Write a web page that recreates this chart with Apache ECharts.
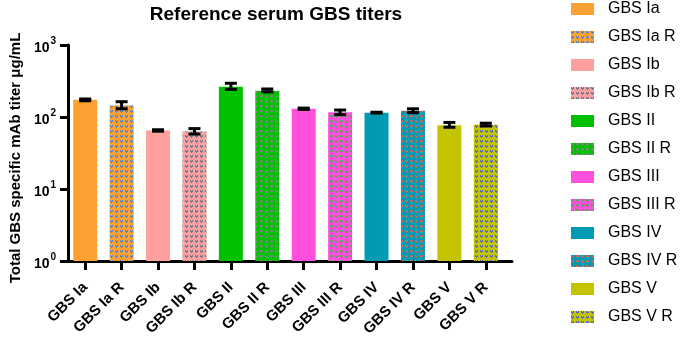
<!DOCTYPE html>
<html><head><meta charset="utf-8">
<script src="https://cdn.jsdelivr.net/npm/echarts@6/dist/echarts.min.js"></script>
<style>html,body{margin:0;padding:0;background:#fff}#c{width:685px;height:339px}</style>
</head><body><div id="c"></div>
<script>
const categories = ['GBS Ia','GBS Ia R','GBS Ib','GBS Ib R','GBS II','GBS II R','GBS III','GBS III R','GBS IV','GBS IV R','GBS V','GBS V R'];
const means = [173, 145, 65, 63, 264, 232, 130, 116, 115, 122, 77, 78];
const errLow = [168, 130, 63.5, 58, 242, 223, 127, 108, 113.5, 115, 72, 75];
const errHigh = [178, 163, 66.5, 69, 294, 245, 133, 125, 116.5, 130, 84, 82];
const yTicks = [1, 10, 100, 1000];

const baseColors = ['#FFA033','#FFA033','#FF9F9F','#FF9F9F','#00C000','#00C000','#FF50DD','#FF50DD','#009AB5','#009AB5','#C3C300','#C3C300'];
const dotColors = [null,'#5B86C0',null,'#6B7B8B',null,'#7A8A7A',null,'#5FA05F',null,'#C0705A',null,'#5A6AB4'];

function makePattern(base, dot){
  const c = document.createElement('canvas');
  c.width = 5; c.height = 5;
  const g = c.getContext('2d');
  g.fillStyle = base; g.fillRect(0,0,5,5);
  g.fillStyle = dot;
  g.fillRect(0,0,1,1); g.fillRect(2,0,1,1);
  g.fillRect(0,1,3,1);
  g.fillRect(1,2,1,1);
  return {image: c, repeat: 'repeat'};
}

const FONT = 'Liberation Sans';
const series = categories.map((name, i) => {
  const d = categories.map((_, j) => j === i ? means[j] : '-');
  const color = dotColors[i] ? makePattern(baseColors[i], dotColors[i]) : baseColors[i];
  return {
    name, type: 'bar', xAxisIndex: 0, yAxisIndex: 0,
    data: d, barWidth: 24, barGap: '-100%',
    itemStyle: {color}, emphasis: {disabled: true}, silent: true
  };
});
series.push({
  type: 'custom', xAxisIndex: 0, yAxisIndex: 0, z: 10, silent: true,
  data: categories.map((_, i) => [i, errLow[i], errHigh[i]]),
  renderItem: function(params, api){
    const x = api.value(0);
    const lo = api.coord([x, api.value(1)]);
    const hi = api.coord([x, api.value(2)]);
    const hw = 6;
    const st = {stroke: '#000', lineWidth: 3};
    return {type: 'group', children: [
      {type: 'line', shape: {x1: lo[0], y1: lo[1], x2: hi[0], y2: hi[1]}, style: st},
      {type: 'line', shape: {x1: lo[0]-hw, y1: lo[1], x2: lo[0]+hw, y2: lo[1]}, style: st},
      {type: 'line', shape: {x1: hi[0]-hw, y1: hi[1], x2: hi[0]+hw, y2: hi[1]}, style: st}
    ]};
  }
});

const chart = echarts.init(document.getElementById('c'), null, {renderer: 'canvas'});
chart.setOption({
  animation: false,
  backgroundColor: '#fff',
  textStyle: {fontFamily: FONT},
  title: {
    text: 'Reference serum GBS titers', left: 271, top: 0, textAlign: 'center',
    textStyle: {fontFamily: FONT, fontWeight: 'bold', fontSize: 19, color: '#000'}
  },
  legend: {
    orient: 'vertical', left: 571, top: 1, padding: 0, itemGap: 12,
    itemWidth: 23, itemHeight: 12, icon: 'rect',
    data: categories,
    textStyle: {fontFamily: FONT, fontSize: 16, color: '#000', padding: [0,0,0,9]}
  },
  grid: [
    {left: 67, right: 181, top: 45, bottom: 78},
    {left: 61, right: 173, top: 45, bottom: 78}
  ],
  xAxis: [
    {type: 'category', gridIndex: 0, data: categories,
     axisLine: {show: false},
     axisTick: {show: true, alignWithLabel: true, length: 9, lineStyle: {width: 3, color: '#000'}},
     axisLabel: {rotate: 45, margin: 24, fontFamily: FONT, fontWeight: 'bold', fontSize: 15, color: '#000', interval: 0},
     splitLine: {show: false}},
    {type: 'value', gridIndex: 1, min: 0, max: 1,
     axisLine: {show: true, onZero: false, lineStyle: {width: 3, color: '#000'}},
     axisTick: {show: false}, axisLabel: {show: false}, splitLine: {show: false}}
  ],
  yAxis: [
    {type: 'log', gridIndex: 0, logBase: 10, min: yTicks[0], max: yTicks[yTicks.length-1], show: false},
    {type: 'log', gridIndex: 1, logBase: 10, min: yTicks[0], max: yTicks[yTicks.length-1],
     name: 'Total GBS specific mAb titer μg/mL', nameLocation: 'middle', nameGap: 44,
     nameTextStyle: {fontFamily: FONT, fontWeight: 'bold', fontSize: 15, color: '#000', padding: [0,0,0,-10]},
     axisLine: {show: true, lineStyle: {width: 3, color: '#000'}},
     axisTick: {show: true, length: 8, lineStyle: {width: 3, color: '#000'}},
     splitLine: {show: false},
     axisLabel: {margin: 12, color: '#000',
       formatter: v => '{b|10}{s|' + Math.round(Math.log10(v)) + '}',
       rich: {b: {fontFamily: FONT, fontWeight: 'bold', fontSize: 14, color: '#000', verticalAlign: 'bottom', padding: [0,0,-2,0]},
              s: {fontFamily: FONT, fontWeight: 'bold', fontSize: 10, color: '#000', verticalAlign: 'bottom', padding: [0,0,7,1]}}}}
  ],
  series
});
</script></body></html>
